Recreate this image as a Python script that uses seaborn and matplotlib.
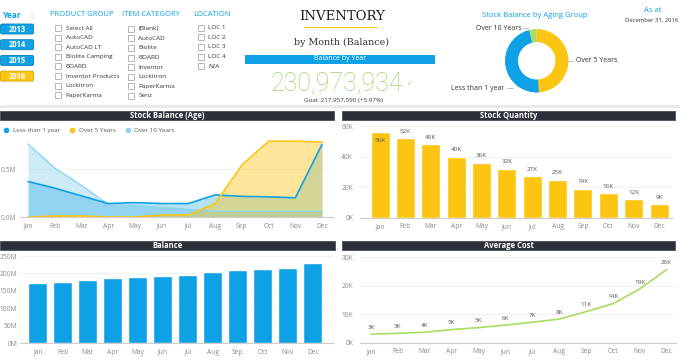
import matplotlib
matplotlib.use("Agg")
import matplotlib.pyplot as plt
import seaborn as sns
import numpy as np
from matplotlib.patches import Rectangle, FancyBboxPatch
from matplotlib.lines import Line2D

months = ["Jan", "Feb", "Mar", "Apr", "May", "Jun", "Jul", "Aug", "Sep", "Oct", "Nov", "Dec"]

# stock balance by age group (millions)
less_1yr = [0.37, 0.30, 0.22, 0.14, 0.15, 0.14, 0.14, 0.23, 0.215, 0.21, 0.20, 0.757]
over_5yr = [0.0, 0.01, 0.01, 0.0, 0.0, 0.02, 0.02, 0.14, 0.54, 0.79, 0.79, 0.78]
over_10yr = [0.76, 0.51, 0.33, 0.13, 0.12, 0.10, 0.08, 0.06, 0.06, 0.06, 0.06, 0.06]

stock_qty = [56, 52, 48, 40, 36, 32, 27, 25, 19, 16, 12, 9]  # thousands
balance = [171.5, 176, 180, 186, 189, 192, 195, 204, 209, 212, 216, 231]  # millions
avg_cost = [3.0, 3.3, 3.7, 4.6, 5.3, 6.2, 7.2, 8.3, 10.9, 13.7, 18.9, 25.7]  # thousands

aging_groups = ["Over 5 Years", "Less than 1 year", "Over 10 Years"]
aging_balance = [0.78, 0.757, 0.06]

years = ["2013", "2014", "2015", "2016"]
selected_year = "2016"
product_groups = ["Select All", "AutoCAD", "AutoCAD LT", "Biolite Camping", "BOARD",
                  "Inventor Products", "Lockitron", "PaperKarma"]
item_categories = ["(Blank)", "AutoCAD", "Biolite", "BOARD", "Inventor", "Lockitron",
                   "PaperKarma", "Senz"]
locations = ["LOC 1", "LOC 2", "LOC 3", "LOC 4", "N/A"]

total_balance = 230973934
goal_balance = 217957590

BLUE = "#0ea1e6"
YELLOW = "#fcc511"
LBLUE = "#8fd4ef"
GREEN = "#a6dd62"
HEAD = "#2b3039"
TXT = "#333333"
TICK = "#8a8a8a"

sns.set_style("white")
plt.rcParams["font.family"] = ["Open Sans", "DejaVu Sans"]

fig = plt.figure(figsize=(6.8, 3.6), dpi=100)
bg = fig.add_axes([0, 0, 1, 1])
bg.set_xlim(0, 680)
bg.set_ylim(360, 0)
bg.axis("off")


def panel(l, t, r, b):
    return fig.add_axes([l / 680, 1 - b / 360, (r - l) / 680, (b - t) / 360])


# ---- slicers ----
bg.text(3, 15, "Year", color=BLUE, fontsize=6, fontweight="bold", va="center")
bg.text(30, 17, "◇", color="#bbbbbb", fontsize=4, va="center")
for i, yr in enumerate(years):
    y = 24 + i * 15.7
    fc = YELLOW if yr == selected_year else BLUE
    ec = "#d9a400" if yr == selected_year else "#0a7fb8"
    bg.add_patch(FancyBboxPatch((0.5, y), 33, 10, boxstyle="round,pad=0,rounding_size=1.5",
                                fc=fc, ec=ec, lw=0.6))
    bg.text(17, y + 5.2, yr, color="white", fontsize=5.5, fontweight="bold", ha="center", va="center")

for title, items, hx, bx, y0 in [("PRODUCT GROUP", product_groups, 50, 55, 28),
                                 ("ITEM CATEGORY", item_categories, 122, 128, 28.7),
                                 ("LOCATION", locations, 193, 198, 27.7)]:
    bg.text(hx, 15, title, color=BLUE, fontsize=5.5, va="center")
    for j, it in enumerate(items):
        y = y0 + j * 9.6
        bg.add_patch(Rectangle((bx, y - 3), 6, 6, fc="white", ec="#9a9a9a", lw=0.5))
        bg.text(bx + 10.5, y, it, color=TXT, fontsize=4.6, va="center")

# ---- title block ----
bg.text(342, 16.5, "INVENTORY", family="DejaVu Serif", fontsize=9.5, color="#1e1e1e",
        ha="center", va="center")
bg.add_patch(Rectangle((304, 26.8), 74, 1.6, fc=YELLOW, ec="none"))
bg.text(342, 42.5, "by Month (Balance)", family="DejaVu Serif", fontsize=6.8, color="#333333",
        ha="center", va="center")
bg.add_patch(Rectangle((245, 54.5), 190, 9, fc=BLUE, ec="none"))
bg.text(340, 59, "Balance by Year", color="white", fontsize=5, ha="center", va="center")
bg.text(337, 84, f"{total_balance:,}", family=["Roboto", "DejaVu Sans"], fontweight="light",
        fontsize=18, color="#9fd266", ha="center", va="center")
bg.text(407, 84, "✓", family="DejaVu Sans", fontsize=5, color="#9fd266", va="center")
pct = (total_balance / goal_balance - 1) * 100
bg.text(343, 100.5, f"Goal: {goal_balance:,} (+{pct:.2f}%)", fontsize=4.5, color=TXT,
        ha="center", va="center")

# ---- donut ----
bg.text(534.5, 15.7, "Stock Balance by Aging Group", color=BLUE, fontsize=5.5, ha="center", va="center")
bg.text(652.5, 10, "As at", color=BLUE, fontsize=5.5, ha="center", va="center")
bg.text(652, 20.7, "December 31, 2016", color=TXT, fontsize=4.2, ha="center", va="center")
axd = panel(505, 29.1, 568.4, 92.5)
axd.pie(aging_balance, colors=[YELLOW, BLUE, GREEN], startangle=90, counterclock=False,
        wedgeprops=dict(width=0.41, edgecolor="none"))
axd.set_xlim(-1, 1)
axd.set_ylim(-1, 1)
for lab, tx, ty, ha, lx in [(aging_groups[2], 522, 28.3, "right", (523, 529)),
                            (aging_groups[0], 576, 61, "left", (567, 573)),
                            (aging_groups[1], 504, 88, "right", (507, 513))]:
    bg.text(tx, ty, lab, fontsize=5, color=TXT, ha=ha, va="center")
    bg.plot(lx, [ty, ty], color="#aaaaaa", lw=0.5)

bg.plot([0, 680], [106, 106], color="#e8e8e8", lw=2)


def header(l, r, t, text):
    bg.add_patch(Rectangle((l, t), r - l, 9.5, fc=HEAD, ec="#4a4f58", lw=0.6))
    bg.text((l + r) / 2, t + 4.9, text, color="white", fontsize=5.5, fontweight="bold",
            ha="center", va="center")


def style(ax, ticks, labels, xlim, ylim, pad):
    ax.set_xlim(*xlim)
    ax.set_ylim(*ylim)
    ax.set_xticks(range(12), months)
    ax.set_yticks(ticks, labels)
    ax.tick_params(length=0, labelsize=4.8, colors=TICK)
    ax.tick_params(axis="y", pad=pad)
    ax.tick_params(axis="x", pad=4)
    ax.set_xlabel("")
    ax.set_ylabel("")
    for s in ["top", "right", "left"]:
        ax.spines[s].set_visible(False)
    ax.spines["bottom"].set_color("#cccccc")
    ax.spines["bottom"].set_linewidth(0.8)
    ax.grid(axis="y", color="#f0f0f0", lw=0.6)
    ax.set_axisbelow(True)
    ax.patch.set_alpha(0)


x = np.arange(12)

# ---- Stock Balance (Age) ----
header(0, 334, 110.5, "Stock Balance (Age)")
ax1 = panel(20, 138, 333, 217)
ax1.fill_between(x, over_10yr, color=LBLUE, alpha=0.45, lw=0)
ax1.fill_between(x, less_1yr, color=BLUE, alpha=0.3, lw=0)
ax1.fill_between(x, over_5yr, color=YELLOW, alpha=0.42, lw=0)
sns.lineplot(x=x, y=over_10yr, color=LBLUE, lw=1, ax=ax1)
sns.lineplot(x=x, y=less_1yr, color=BLUE, lw=1.2, ax=ax1)
sns.lineplot(x=x, y=over_5yr, color=YELLOW, lw=1.2, ax=ax1)
style(ax1, [0, 0.5], ["0.0M", "0.5M"], (-0.3, 11.41), (0, 0.823), 3)
handles = [Line2D([], [], marker="o", ls="", color=c, markersize=3)
           for c in [BLUE, YELLOW, LBLUE]]
fig.legend(handles, ["Less than 1 year", "Over 5 Years", "Over 10 Years"], loc="center left",
           bbox_to_anchor=(-0.004, 1 - 130 / 360), ncol=3, frameon=False, fontsize=4.5,
           handletextpad=0.1, columnspacing=0.9, borderaxespad=0, labelcolor="#555555")

# ---- Stock Quantity ----
header(342, 675, 110.5, "Stock Quantity")
ax2 = panel(360, 122, 672, 217.7)
sns.barplot(x=months, y=stock_qty, color=YELLOW, saturation=1, width=0.75, ax=ax2)
for i, v in enumerate(stock_qty):
    if v > 54:
        ax2.annotate(f"{v}K", (i, v), xytext=(0, -6), textcoords="offset points", ha="center",
                     va="center", fontsize=4.5, color="#555555")
    else:
        ax2.annotate(f"{v}K", (i, v), xytext=(0, 5), textcoords="offset points", ha="center",
                     va="center", fontsize=4.5, color="#555555")
style(ax2, [0, 20, 40, 60], ["0K", "20K", "40K", "60K"], (-0.79, 11.51), (0, 62.7), 5)

# ---- Balance ----
header(0, 335, 240.5, "Balance")
ax3 = panel(20, 252, 333, 343)
sns.barplot(x=months, y=balance, color=BLUE, saturation=1, width=0.76, ax=ax3)
style(ax3, range(0, 251, 50), [f"{v}M" for v in range(0, 251, 50)], (-0.72, 11.81), (0, 261.5), 2)

# ---- Average Cost ----
header(342, 675, 240.5, "Average Cost")
ax4 = panel(360, 254, 676, 342.7)
sns.lineplot(x=x, y=avg_cost, color=GREEN, lw=1.2, ax=ax4)
for i, v in enumerate(avg_cost):
    ax4.annotate(f"{v:.0f}K", (i, v), xytext=(0, 5), textcoords="offset points", ha="center",
                 va="center", fontsize=4.5, color="#555555")
style(ax4, [0, 10, 20, 30], ["0K", "10K", "20K", "30K"], (-0.41, 11.35), (0, 31.2), 5)

fig.savefig("out.png", dpi=100)
